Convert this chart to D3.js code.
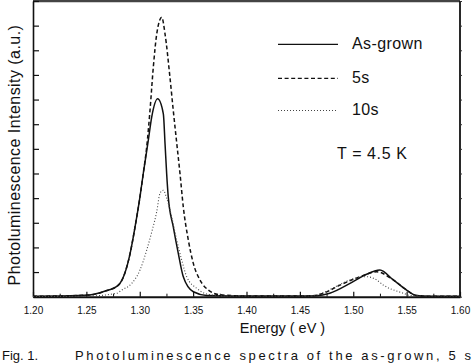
<!DOCTYPE html>
<html>
<head>
<meta charset="utf-8">
<script src="https://cdn.jsdelivr.net/npm/d3@7/dist/d3.min.js"></script>
<style>
  body { margin: 0; background: #fff; }
  svg { display: block; }
  text { font-family: "Liberation Sans", Arial, sans-serif; fill: #111; }
</style>
</head>
<body>
<div class="canva"></div>
<script>
// data: [energy (eV), intensity (a.u.)]
const seriesNames = ['As-grown', '5s', '10s'];

const asGrown = [
  [1.200, 0.02], [1.225, 0.03], [1.253, 0.07], [1.267, 0.22], [1.280, 0.47],
  [1.286, 0.95], [1.291, 1.76], [1.2956, 2.83], [1.3002, 4.05], [1.3033, 5.0],
  [1.3080, 6.34], [1.3112, 7.29], [1.3168, 8.03], [1.3221, 7.42], [1.3237, 6.2],
  [1.3252, 5.0], [1.3267, 4.05], [1.3314, 2.83], [1.3361, 1.76], [1.3408, 0.81],
  [1.3502, 0.2], [1.3627, 0.05], [1.385, 0.03], [1.431, 0.03], [1.450, 0.03],
  [1.466, 0.04], [1.478, 0.14], [1.497, 0.54], [1.511, 0.88], [1.525, 1.08],
  [1.5375, 0.68], [1.550, 0.27], [1.559, 0.05], [1.572, 0.02], [1.600, 0.02]
];

const anneal5s = [
  [1.200, 0.02], [1.225, 0.03], [1.253, 0.07], [1.267, 0.22], [1.280, 0.47],
  [1.286, 0.95], [1.291, 1.76], [1.2956, 2.83], [1.3002, 4.05], [1.3033, 5.0],
  [1.3065, 6.07], [1.3096, 7.56], [1.3127, 9.31], [1.3159, 10.66], [1.3206, 11.34],
  [1.3237, 10.66], [1.3283, 8.9], [1.3314, 7.56], [1.3346, 6.25], [1.3377, 5.0],
  [1.3408, 3.64], [1.3455, 2.3], [1.3502, 1.35], [1.3564, 0.68], [1.3642, 0.27],
  [1.375, 0.08], [1.400, 0.03], [1.450, 0.03], [1.462, 0.04], [1.472, 0.14],
  [1.4876, 0.47], [1.5063, 0.81], [1.522, 1.01], [1.5375, 0.68], [1.550, 0.27],
  [1.559, 0.05], [1.572, 0.02], [1.600, 0.02]
];

const anneal10s = [
  [1.200, 0.01], [1.250, 0.02], [1.2784, 0.14], [1.2831, 0.27], [1.2925, 0.54],
  [1.3002, 1.08], [1.3065, 1.89], [1.3112, 2.62], [1.3159, 3.45], [1.3190, 4.2],
  [1.3221, 4.32], [1.3252, 4.0], [1.3299, 3.24], [1.3346, 2.3], [1.3393, 1.49],
  [1.3440, 0.81], [1.3533, 0.34], [1.3639, 0.1], [1.380, 0.03], [1.450, 0.03],
  [1.4595, 0.03], [1.4719, 0.16], [1.4876, 0.5], [1.5016, 0.75], [1.5126, 0.81],
  [1.5204, 0.72], [1.5282, 0.47], [1.5469, 0.14], [1.5532, 0.05], [1.600, 0.02]
];

const energyTicks = [1.20, 1.25, 1.30, 1.35, 1.40, 1.45, 1.50, 1.55, 1.60];
const energyMinor = [1.225, 1.275, 1.325, 1.375, 1.425, 1.475, 1.525, 1.575];
const intensityTicks = [0, 1, 2, 3, 4, 5, 6, 7, 8, 9, 10, 11, 12];

const width = 474, height = 364;
const margin = {top: 1, right: 14, bottom: 67.3, left: 33};
const graphWidth = width - margin.left - margin.right;
const graphHeight = height - margin.top - margin.bottom;

const svg = d3.select('.canva').append('svg')
    .attr('width', width)
    .attr('height', height);

const graph = svg.append('g')
    .attr('transform', `translate(${margin.left}, ${margin.top})`);

const x = d3.scaleLinear().domain([1.20, 1.60]).range([0, graphWidth]);
const y = d3.scaleLinear().domain([0, 12]).range([graphHeight, 0]);

// frame: top and right edges
graph.append('line')
    .attr('x1', 0).attr('x2', graphWidth).attr('y1', 0).attr('y2', 0)
    .attr('stroke', '#444').attr('stroke-width', 2.6);
graph.append('line')
    .attr('x1', graphWidth).attr('x2', graphWidth).attr('y1', 0).attr('y2', graphHeight)
    .attr('stroke', '#111').attr('stroke-width', 1.8);

// right axis small outward ticks
const yRight = d3.axisRight(y).tickValues(intensityTicks).tickSize(2).tickFormat('');
graph.append('g')
    .attr('transform', `translate(${graphWidth}, 0)`)
    .call(yRight)
    .call(g => g.select('.domain').remove())
    .call(g => g.selectAll('line').attr('stroke', '#333'));

// left axis: inward ticks, no labels
const yAxis = d3.axisLeft(y).tickValues(intensityTicks).tickSize(-6).tickSizeOuter(0).tickFormat('');
graph.append('g')
    .call(yAxis)
    .call(g => g.select('.domain').attr('stroke', '#111').attr('stroke-width', 1.6))
    .call(g => g.selectAll('.tick line').attr('stroke', '#111').attr('stroke-width', 1.2));

// bottom axis minor ticks
graph.append('g')
    .attr('transform', `translate(0, ${graphHeight})`)
    .call(d3.axisBottom(x).tickValues(energyMinor).tickSize(-3).tickFormat(''))
    .call(g => g.select('.domain').remove())
    .call(g => g.selectAll('line').attr('stroke', '#111'));

// bottom axis major ticks + labels
const xAxis = d3.axisBottom(x).tickValues(energyTicks).tickSize(-5).tickSizeOuter(0)
    .tickPadding(10).tickFormat(d3.format('.2f'));
graph.append('g')
    .attr('transform', `translate(0, ${graphHeight})`)
    .call(xAxis)
    .call(g => g.select('.domain').attr('stroke', '#111').attr('stroke-width', 2))
    .call(g => g.selectAll('.tick line').attr('stroke', '#111').attr('stroke-width', 1.2))
    .call(g => g.selectAll('.tick text')
        .attr('font-size', 10)
        .attr('font-family', '"Liberation Sans", Arial, sans-serif')
        .attr('fill', '#222'));

// curves
const line = d3.line()
    .x(d => x(d[0]))
    .y(d => y(d[1]))
    .curve(d3.curveMonotoneX);

const styles = [
  {dash: null, width: 1.5, color: '#111'},
  {dash: '4,2.6', width: 1.5, color: '#111'},
  {dash: '1,2', width: 1.1, color: '#444'}
];

[asGrown, anneal5s, anneal10s].forEach((data, i) => {
  graph.append('path')
      .datum(data)
      .attr('d', line)
      .attr('fill', 'none')
      .attr('stroke', styles[i].color)
      .attr('stroke-width', styles[i].width)
      .attr('stroke-dasharray', styles[i].dash);
});

// legend
const legend = svg.append('g');
const legendY = [44.3, 78.3, 110.5];
seriesNames.forEach((name, i) => {
  legend.append('line')
      .attr('x1', 278).attr('x2', 338)
      .attr('y1', legendY[i]).attr('y2', legendY[i])
      .attr('stroke', styles[i].color)
      .attr('stroke-width', i === 2 ? 1 : 1.3)
      .attr('stroke-dasharray', styles[i].dash);
  legend.append('text')
      .attr('x', 352).attr('y', legendY[i] + 4.5)
      .attr('font-size', 16)
      .attr('letter-spacing', 0.4)
      .text(name);
});

legend.append('text')
    .attr('x', 337).attr('y', 159)
    .attr('font-size', 16)
    .attr('letter-spacing', 0.6)
    .text('T = 4.5 K');

// axis titles
svg.append('text')
    .attr('x', margin.left + graphWidth / 2 + 36)
    .attr('y', 332.5)
    .attr('text-anchor', 'middle')
    .attr('font-size', 14.5)
    .text('Energy ( eV )');

svg.append('text')
    .attr('transform', 'translate(20, 155) rotate(-90)')
    .attr('text-anchor', 'middle')
    .attr('font-size', 16)
    .attr('letter-spacing', 0.45)
    .text('Photoluminescence Intensity (a.u.)');

// figure caption along the bottom edge
svg.append('text')
    .attr('x', 2).attr('y', 360)
    .attr('font-family', '"Liberation Serif", "Times New Roman", serif')
    .attr('font-size', 13)
    .attr('fill', '#222')
    .text('Fig. 1.');
svg.append('text')
    .attr('x', 75).attr('y', 360)
    .attr('font-family', '"Liberation Serif", "Times New Roman", serif')
    .attr('font-size', 13)
    .attr('fill', '#222')
    .attr('textLength', 396)
    .text('Photoluminescence spectra of the as-grown, 5 s');
</script>
</body>
</html>
